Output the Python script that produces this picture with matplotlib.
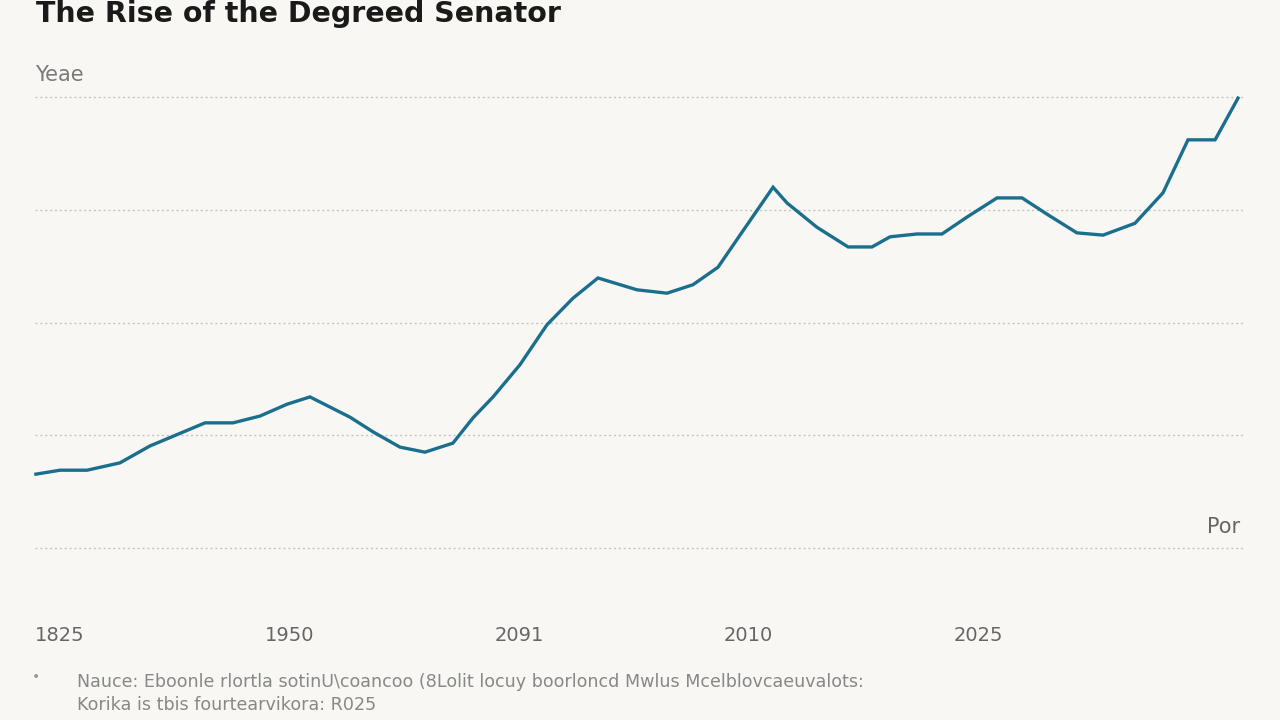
import matplotlib
matplotlib.use("Agg")
import matplotlib.pyplot as plt

# ---- data ----
period = [-0.105, 0.0, 0.118, 0.261, 0.392, 0.632, 0.754, 0.871, 0.989, 1.089,
          1.264, 1.364, 1.481, 1.590, 1.712, 1.800, 1.887, 2.004, 2.122, 2.235,
          2.344, 2.514, 2.645, 2.758, 2.867, 2.963, 3.107, 3.168, 3.298, 3.434,
          3.538, 3.617, 3.734, 3.843, 3.952, 4.083, 4.192, 4.305, 4.431, 4.545,
          4.684, 4.806, 4.915, 5.033, 5.133]
share = [13.1, 13.8, 13.8, 15.1, 18.1, 22.2, 22.2, 23.4, 25.5, 26.8,
         23.2, 20.6, 17.9, 17.0, 18.6, 23.1, 26.8, 32.5, 39.6, 44.3,
         47.9, 45.8, 45.2, 46.7, 49.8, 55.5, 64.0, 61.2, 56.9, 53.4,
         53.4, 55.2, 55.7, 55.7, 58.7, 62.1, 62.1, 59.1, 55.9, 55.5,
         57.6, 63.0, 72.4, 72.4, 79.8]
tick_pos = [0, 1, 2, 3, 4]
tick_labels = ["1825", "1950", "2091", "2010", "2025"]
grid_vals = [0, 20, 40, 60, 80]

title = "The Rise of the Degreed Senator"
y_label = "Yeae"
right_label = "Por"
footer1 = "Nauce: Eboonle rlortla sotinU\\coancoo (8Lolit locuy boorloncd Mwlus Mcelblovcaeuvalots:"
footer2 = "Korika is tbis fourtearvikora: R025"

BG = "#f8f7f4"
LINE = "#1b6f8e"

W, H = 1280, 720
fig = plt.figure(figsize=(W / 100, H / 100), dpi=100, facecolor=BG)

# axes spans pixel rows 87..558 so that 0 -> 548 px and 80 -> 97 px
px_per_unit = (548 - 97) / 80.0
y_top_px, y_bot_px = 87, 558
ylo = -(y_bot_px - 548) / px_per_unit
yhi = 80 + (97 - y_top_px) / px_per_unit
x0, x1 = 35, 1243
ax = fig.add_axes([x0 / W, 1 - y_bot_px / H, (x1 - x0) / W, (y_bot_px - y_top_px) / H])
ax.set_facecolor(BG)
ax.plot(period, share, color=LINE, lw=2.4, solid_joinstyle="miter", clip_on=False, zorder=3)
ax.set_xlim((x0 - 60) / 229.5, (x1 - 60) / 229.5)
ax.set_ylim(ylo, yhi)
ax.set_yticks(grid_vals)
ax.set_yticklabels([])
ax.tick_params(axis="y", length=0)
ax.grid(axis="y", color="#c4c4c4", linestyle=(0, (1.5, 2.0)), linewidth=1.0, zorder=0)
for s in ax.spines.values():
    s.set_visible(False)
ax.set_xticks(tick_pos)
ax.set_xticklabels(tick_labels)
ax.tick_params(axis="x", length=0, pad=49, labelsize=14, labelcolor="#666666")

fig.text(36 / W, 1 - 22 / H, title, fontsize=20.5, fontweight="bold", color="#1a1a1a",
         ha="left", va="baseline")
fig.text(35 / W, 1 - 75 / H, y_label, fontsize=15, color="#7a7a7a", ha="left", va="center")
fig.text(1240 / W, 1 - 527 / H, right_label, fontsize=15, color="#666666", ha="right", va="center")
fig.text(32 / W, 1 - 677 / H, "•", fontsize=10, color="#999999", ha="left", va="center")
fig.text(77 / W, 1 - 682 / H, footer1, fontsize=12.6, color="#888888", ha="left", va="center")
fig.text(77 / W, 1 - 705 / H, footer2, fontsize=12.6, color="#888888", ha="left", va="center")

fig.savefig("out.png", dpi=100, facecolor=BG)
